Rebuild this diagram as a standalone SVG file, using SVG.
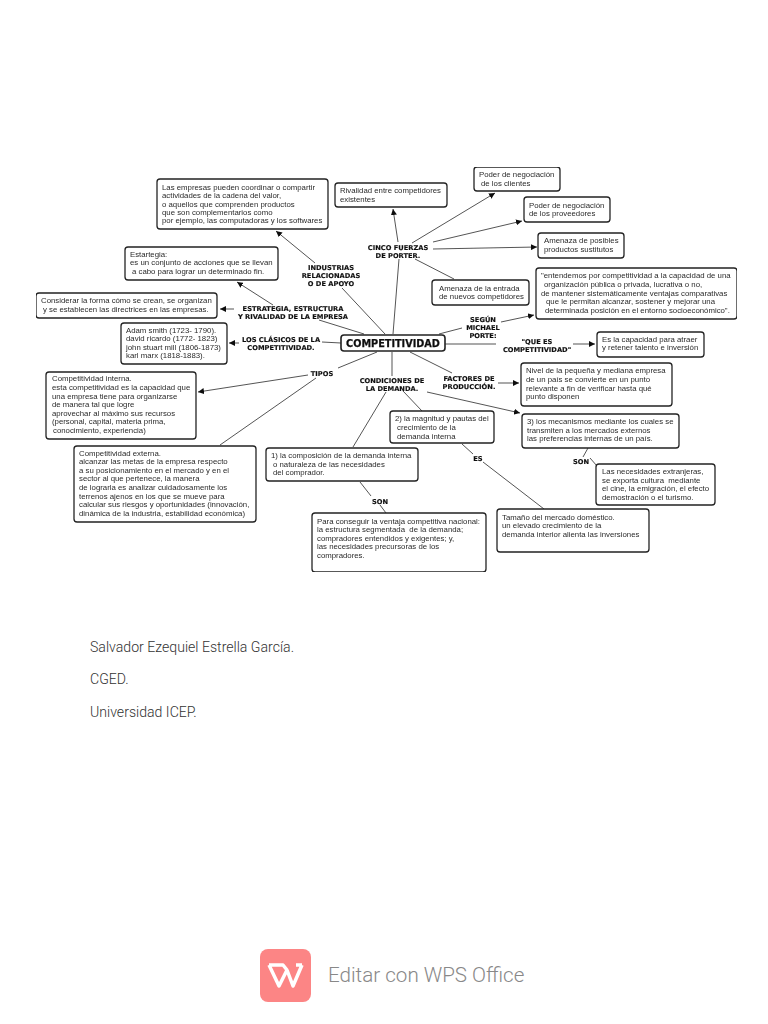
<svg xmlns="http://www.w3.org/2000/svg" width="768" height="1024" viewBox="0 0 768 1024">
<style>
.b{fill:#fff;stroke:#222;stroke-width:1.3}
.t{font:7.8px "Liberation Sans",Arial,sans-serif;fill:#2a2a2a}
.l{font:bold 6.7px "DejaVu Sans",Verdana,sans-serif;fill:#111;text-anchor:middle;stroke:#111;stroke-width:.15}
.c{fill:none;stroke:#555;stroke-width:1}
.f{font:300 14.100px Roboto,"Noto Sans",sans-serif;fill:#333}
</style>
<defs>
<marker id="a" markerUnits="userSpaceOnUse" markerWidth="7" markerHeight="6" refX="6" refY="3" orient="auto"><path d="M0 0L6 3L0 6Z" fill="#111"/></marker>
<filter id="s" x="0" y="0" width="1" height="1"><feGaussianBlur stdDeviation="0.4"/></filter>
</defs>
<rect width="768" height="1024" fill="#fff"/>
<g filter="url(#s)">
<g id="connectors" class="c">
<path d="M342 288L385 334"/>
<path d="M315 263L276 231" marker-end="url(#a)"/>
<path d="M273 305L237 282" marker-end="url(#a)"/>
<path d="M234 309L220 309" marker-end="url(#a)"/>
<path d="M319 320L364 334"/>
<path d="M322 342L341 343"/>
<path d="M239 343L229 343" marker-end="url(#a)"/>
<path d="M377 352L338 368"/>
<path d="M308 375L198 392" marker-end="url(#a)"/>
<path d="M316 378L220 445"/>
<path d="M392 352L392 376"/>
<path d="M386 392L353 447"/>
<path d="M403 391L422 411"/>
<path d="M410 352L452 373"/>
<path d="M498 383L519 383" marker-end="url(#a)"/>
<path d="M427 392L520 413" marker-end="url(#a)"/>
<path d="M360 482L371 496"/>
<path d="M380 505L386 513"/>
<path d="M462 444L473 454"/>
<path d="M483 462L544 509"/>
<path d="M588 448L583 457"/>
<path d="M590 458L597 466"/>
<path d="M393 334L399 259"/>
<path d="M398 242L393 209" marker-end="url(#a)"/>
<path d="M412 243L495 193" marker-end="url(#a)"/>
<path d="M433 242L522 221" marker-end="url(#a)"/>
<path d="M433 249L537 247" marker-end="url(#a)"/>
<path d="M415 259L454 279"/>
<path d="M439 334L462 328"/>
<path d="M501 322L534 315" marker-end="url(#a)"/>
<path d="M445 344L496 344"/>
<path d="M573 344L595 344" marker-end="url(#a)"/>
</g>
<g id="n-apoyo"><rect class="b" x="157" y="179" width="171" height="50" rx="3"/>
<text class="t"><tspan x="162" y="190">Las empresas pueden coordinar o compartir</tspan><tspan x="162" y="198">actividades de la cadena del valor,</tspan><tspan x="162" y="207">o aquellos que comprenden productos</tspan><tspan x="162" y="215">que son complementarios como</tspan><tspan x="162" y="223">por ejemplo, las computadoras y los softwares</tspan></text></g>
<g id="n-estrategia"><rect class="b" x="125" y="247" width="153" height="33" rx="3"/>
<text class="t"><tspan x="130" y="257">Estartegia:</tspan><tspan x="130" y="265">es un conjunto de acciones que se llevan</tspan><tspan x="132" y="274">a cabo para lograr un determinado fin.</tspan></text></g>
<g id="n-considerar"><rect class="b" x="36" y="293" width="181" height="25" rx="3"/>
<text class="t"><tspan x="41" y="303">Considerar la forma cómo se crean, se organizan</tspan><tspan x="43" y="312">y se establecen las directrices en las empresas.</tspan></text></g>
<g id="n-clasicos"><rect class="b" x="121" y="323" width="106" height="41" rx="3"/>
<text class="t"><tspan x="126" y="333">Adam smith (1723- 1790).</tspan><tspan x="126" y="341">david ricardo (1772- 1823)</tspan><tspan x="126" y="350">john stuart mill (1806-1873)</tspan><tspan x="126" y="358">karl marx (1818-1883).</tspan></text></g>
<g id="n-rivalidad"><rect class="b" x="335" y="183" width="112" height="24" rx="3"/>
<text class="t"><tspan x="340" y="193">Rivalidad entre competidores</tspan><tspan x="340" y="202">existentes</tspan></text></g>
<g id="n-clientes"><rect class="b" x="474" y="167" width="86" height="24" rx="3"/>
<text class="t"><tspan x="479" y="177">Poder de negociación</tspan><tspan x="481" y="186">de los clientes</tspan></text></g>
<g id="n-proveedores"><rect class="b" x="524" y="197" width="86" height="25" rx="3"/>
<text class="t"><tspan x="529" y="208">Poder de negociación</tspan><tspan x="529" y="216">de los proveedores</tspan></text></g>
<g id="n-sustitutos"><rect class="b" x="538" y="233" width="86" height="25" rx="3"/>
<text class="t"><tspan x="544" y="243">Amenaza de posibles</tspan><tspan x="544" y="252">productos sustitutos</tspan></text></g>
<g id="n-entrada"><rect class="b" x="432" y="280" width="97" height="25" rx="3"/>
<text class="t"><tspan x="439" y="291">Amenaza de la entrada</tspan><tspan x="439" y="299">de nuevos competidores</tspan></text></g>
<g id="n-porter"><rect class="b" x="536" y="268" width="201" height="51" rx="3"/>
<text class="t"><tspan x="541" y="278">"entendemos por competitividad a la capacidad de una</tspan><tspan x="544" y="287">organización pública o privada, lucrativa o no,</tspan><tspan x="541" y="296">de mantener sistemáticamente ventajas comparativas</tspan><tspan x="546" y="304">que le permitan alcanzar, sostener y mejorar una</tspan><tspan x="545" y="313">determinada posición en el entorno socioeconómico".</tspan></text></g>
<g id="n-atraer"><rect class="b" x="597" y="332" width="107" height="25" rx="3"/>
<text class="t"><tspan x="602" y="342">Es la capacidad para atraer</tspan><tspan x="602" y="350">y retener talento e inversión</tspan></text></g>
<g id="n-competitividad"><rect x="341" y="335" width="104" height="16" rx="3" fill="#fff" stroke="#222" stroke-width="1.6"/>
<text x="393" y="346.500" font-family="'DejaVu Sans',Verdana,sans-serif" font-weight="bold" font-size="9.700" text-anchor="middle" fill="#111" stroke="#111" stroke-width=".25">COMPETITIVIDAD</text></g>
<g id="n-nivel"><rect class="b" x="521" y="363" width="151" height="43" rx="3"/>
<text class="t"><tspan x="526" y="373">Nivel de la pequeña y mediana empresa</tspan><tspan x="526" y="382">de un país se convierte en un punto</tspan><tspan x="526" y="391">relevante a fin de verificar hasta qué</tspan><tspan x="526" y="399">punto disponen</tspan></text></g>
<g id="n-mecanismos"><rect class="b" x="522" y="414" width="157" height="34" rx="3"/>
<text class="t"><tspan x="527" y="424">3) los mecanismos mediante los cuales se</tspan><tspan x="527" y="433">transmiten a los mercados externos</tspan><tspan x="527" y="441">las preferencias internas de un país.</tspan></text></g>
<g id="n-magnitud"><rect class="b" x="390" y="411" width="104" height="32" rx="3"/>
<text class="t"><tspan x="395" y="421">2) la magnitud y pautas del</tspan><tspan x="397" y="430">crecimiento de la</tspan><tspan x="397" y="439">demanda interna</tspan></text></g>
<g id="n-extranjeras"><rect class="b" x="596" y="464" width="119" height="41" rx="3"/>
<text class="t"><tspan x="602" y="474">Las necesidades extranjeras,</tspan><tspan x="602" y="483" xml:space="preserve">se exporta cultura  mediante</tspan><tspan x="602" y="491">el cine, la emigración, el efecto</tspan><tspan x="602" y="500">demostración o el turismo.</tspan></text></g>
<g id="n-tamano"><rect class="b" x="497" y="509" width="152" height="43" rx="3"/>
<text class="t"><tspan x="502" y="520">Tamaño del mercado doméstico.</tspan><tspan x="502" y="528">un elevado crecimiento de la</tspan><tspan x="502" y="537">demanda interior alienta las inversiones</tspan></text></g>
<g id="n-conseguir"><rect class="b" x="312" y="513" width="174" height="59" rx="3"/>
<text class="t"><tspan x="317" y="524">Para conseguir la ventaja competitiva nacional:</tspan><tspan x="317" y="532" xml:space="preserve">la estructura segmentada  de la demanda;</tspan><tspan x="317" y="541">compradores entendidos y exigentes; y,</tspan><tspan x="317" y="549">las necesidades precursoras de los</tspan><tspan x="317" y="558">compradores.</tspan></text></g>
<g id="n-composicion"><rect class="b" x="266" y="448" width="152" height="33" rx="3"/>
<text class="t"><tspan x="271" y="458">1) la composición de la demanda interna</tspan><tspan x="273" y="467">o naturaleza de las necesidades</tspan><tspan x="273" y="475">del comprador.</tspan></text></g>
<g id="n-interna"><rect class="b" x="46" y="372" width="150" height="67" rx="3"/>
<text class="t"><tspan x="52" y="381">Competitividad interna.</tspan><tspan x="52" y="390">esta competitividad es la capacidad que</tspan><tspan x="52" y="399">una empresa tiene para organizarse</tspan><tspan x="52" y="407">de manera tal que logre</tspan><tspan x="52" y="416">aprovechar al máximo sus recursos</tspan><tspan x="52" y="424">(personal, capital, materia prima,</tspan><tspan x="53" y="433">conocimiento, experiencia)</tspan></text></g>
<g id="n-externa"><rect class="b" x="74" y="446" width="182" height="76" rx="3"/>
<text class="t"><tspan x="79" y="456">Competitividad externa.</tspan><tspan x="79" y="464">alcanzar las metas de la empresa respecto</tspan><tspan x="79" y="473">a su posicionamiento en el mercado y en el</tspan><tspan x="79" y="481">sector al que pertenece, la manera</tspan><tspan x="79" y="490">de lograrla es analizar cuidadosamente los</tspan><tspan x="79" y="499">terrenos ajenos en los que se mueve para</tspan><tspan x="79" y="507">calcular sus riesgos y oportunidades (innovación,</tspan><tspan x="79" y="516">dinámica de la industria, estabilidad económica)</tspan></text></g>
<g id="l-industrias"><text class="l"><tspan x="331" y="269.500">INDUSTRIAS</tspan><tspan x="331" y="277.500">RELACIONADAS</tspan><tspan x="331" y="285.500">O DE APOYO</tspan></text></g>
<g id="l-estrategia"><text class="l"><tspan x="293" y="310.500">ESTRATEGIA, ESTRUCTURA</tspan><tspan x="293" y="318.500">Y RIVALIDAD DE LA EMPRESA</tspan></text></g>
<g id="l-clasicos"><text class="l"><tspan x="281" y="341.500">LOS CLÁSICOS DE LA</tspan><tspan x="281" y="349.500">COMPETITIVIDAD.</tspan></text></g>
<g id="l-tipos"><text class="l" x="322" y="375.500">TIPOS</text></g>
<g id="l-cinco"><text class="l"><tspan x="398" y="249.500">CINCO FUERZAS</tspan><tspan x="398" y="257.500">DE PORTER.</tspan></text></g>
<g id="l-segun"><text class="l"><tspan x="483" y="321.500">SEGÚN</tspan><tspan x="483" y="329.500">MICHAEL</tspan><tspan x="483" y="337.500">PORTE:</tspan></text></g>
<g id="l-quees"><text class="l"><tspan x="537" y="343.500">"QUE ES</tspan><tspan x="537" y="351.500">COMPETITIVIDAD"</tspan></text></g>
<g id="l-condiciones"><text class="l"><tspan x="392" y="382.500">CONDICIONES DE</tspan><tspan x="392" y="390.500">LA DEMANDA.</tspan></text></g>
<g id="l-factores"><text class="l"><tspan x="469" y="380.500">FACTORES DE</tspan><tspan x="469" y="388.500">PRODUCCIÓN.</tspan></text></g>
<g id="l-es"><text class="l" x="478" y="460.500">ES</text></g>
<g id="l-son1"><text class="l" x="380" y="503.500">SON</text></g>
<g id="l-son2"><text class="l" x="581" y="463.500">SON</text></g>
</g>
<text class="f" x="90" y="652">Salvador Ezequiel Estrella García.</text>
<text class="f" x="90" y="684">CGED.</text>
<text class="f" x="90" y="717">Universidad ICEP.</text>
<g id="wps">
<rect x="260" y="949" width="51" height="53" rx="8" fill="#fc8585"/>
<path d="M269 965L279 986L287 970L293 986L302 965M269 965H283L287 970M302 965H296" fill="none" stroke="#fff" stroke-width="3.500" stroke-linejoin="round"/>
<text x="328" y="982" font-family="Roboto,'Noto Sans',sans-serif" font-weight="300" font-size="20.600" fill="#888">Editar con WPS Office</text>
</g>
</svg>
